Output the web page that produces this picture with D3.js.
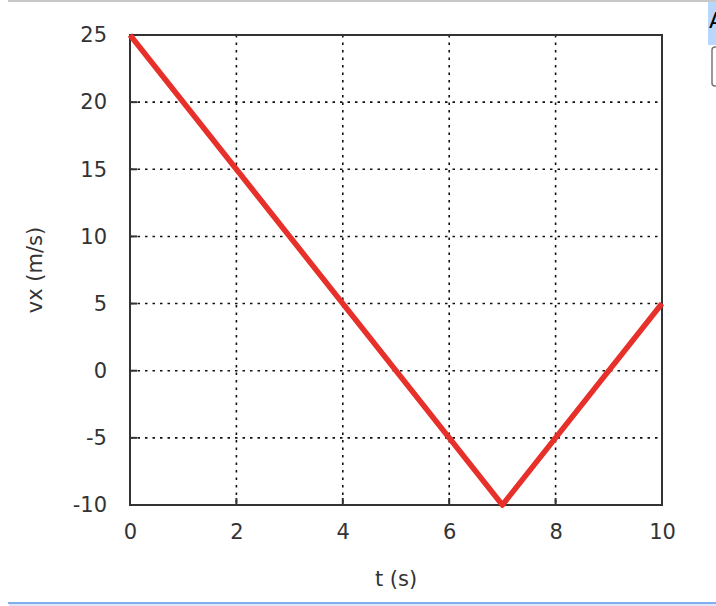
<!DOCTYPE html>
<meta charset="utf-8">
<style>
body {
    margin: 0;
    background: #fff;
    font-family: "DejaVu Sans", sans-serif;
}

.chart text {
    fill: #333;
    font-size: 21px;
    font-family: "DejaVu Sans", sans-serif;
}

.chart .grid line {
    stroke: #111;
    stroke-width: 1.6;
    stroke-dasharray: 2.5,5;
}

.chart .frame {
    fill: none;
    stroke: #333;
    stroke-width: 2;
}

.chart .trace {
    fill: none;
    stroke: #e8302a;
    stroke-width: 5.5;
    stroke-linejoin: round;
}
</style>
<body>
<svg class="chart js-chart"></svg>

<script src="https://cdn.jsdelivr.net/npm/d3@7"></script>
<script type="text/javascript">
"use strict";

// velocity vs time
var times = [0, 7, 10];
var velocities = [25, -10, 5];
var xTicks = [0, 2, 4, 6, 8, 10];
var yTicks = [25, 20, 15, 10, 5, 0, -5, -10];

var containerWidth = 716,
    containerHeight = 606,
    plot = { left: 130, right: 662, top: 35, bottom: 505 };

var svg = d3.select(".js-chart")
    .attr("width", containerWidth)
    .attr("height", containerHeight);

// page bits around the chart
svg.append("rect").attr("x", 8).attr("y", 0).attr("width", 708).attr("height", 2).attr("fill", "#c8c8c8");
svg.append("rect").attr("x", 8).attr("y", 602).attr("width", 708).attr("height", 2).attr("fill", "#7fb0ee");
svg.append("rect").attr("x", 9).attr("y", 604).attr("width", 707).attr("height", 2).attr("fill", "#e4e4fb");
svg.append("rect").attr("x", 708).attr("y", 2).attr("width", 8).attr("height", 43).attr("fill", "#b9d6fb");
svg.append("text").attr("x", 709).attr("y", 28).style("font-size", "22px").style("fill", "#000").text("A");
svg.append("rect").attr("x", 712).attr("y", 47).attr("width", 12).attr("height", 39).attr("rx", 3)
    .attr("fill", "#fff").attr("stroke", "#777").attr("stroke-width", 1.5);

var x = d3.scaleLinear().domain([0, 10]).range([plot.left, plot.right]);
var y = d3.scaleLinear().domain([-10, 25]).range([plot.bottom, plot.top]);

var grid = svg.append("g").attr("class", "grid");

grid.selectAll(".vx")
    .data(xTicks.slice(1, -1))
    .enter().append("line")
    .attr("x1", function(d) { return x(d); })
    .attr("x2", function(d) { return x(d); })
    .attr("y1", plot.top)
    .attr("y2", plot.bottom);

grid.selectAll(".hy")
    .data(yTicks.slice(1, -1))
    .enter().append("line")
    .attr("x1", plot.left)
    .attr("x2", plot.right)
    .attr("y1", function(d) { return y(d); })
    .attr("y2", function(d) { return y(d); });

svg.append("rect")
    .attr("class", "frame")
    .attr("x", plot.left)
    .attr("y", plot.top)
    .attr("width", plot.right - plot.left)
    .attr("height", plot.bottom - plot.top);

// small inward ticks on the bottom and left edges
var ticks = svg.append("g").attr("stroke", "#333").attr("stroke-width", 2);
ticks.selectAll(".tx")
    .data(xTicks)
    .enter().append("line")
    .attr("x1", function(d) { return x(d); })
    .attr("x2", function(d) { return x(d); })
    .attr("y1", plot.bottom)
    .attr("y2", plot.bottom - 7);
ticks.selectAll(".ty")
    .data(yTicks)
    .enter().append("line")
    .attr("x1", plot.left)
    .attr("x2", plot.left + 7)
    .attr("y1", function(d) { return y(d); })
    .attr("y2", function(d) { return y(d); });

// plain hyphen for negatives, like the original
var fmt = function(d) { return String(d); };

var xAxis = d3.axisBottom(x).tickValues(xTicks).tickFormat(fmt).tickSize(0).tickPadding(19);
var yAxis = d3.axisLeft(y).tickValues(yTicks).tickFormat(fmt).tickSize(0).tickPadding(23);

svg.append("g")
    .attr("transform", "translate(0," + plot.bottom + ")")
    .call(xAxis)
    .call(function(g) { g.select(".domain").remove(); });

svg.append("g")
    .attr("transform", "translate(" + plot.left + ",0)")
    .call(yAxis)
    .call(function(g) { g.select(".domain").remove(); });

svg.append("text")
    .attr("x", (plot.left + plot.right) / 2)
    .attr("y", 586)
    .attr("text-anchor", "middle")
    .text("t (s)");

svg.append("text")
    .attr("transform", "translate(42," + ((plot.top + plot.bottom) / 2) + ") rotate(-90)")
    .attr("text-anchor", "middle")
    .text("vx (m/s)");

var line = d3.line()
    .x(function(d) { return x(d[0]); })
    .y(function(d) { return y(d[1]); });

svg.append("path")
    .attr("class", "trace")
    .attr("d", line(d3.zip(times, velocities)));
</script>
</body>
